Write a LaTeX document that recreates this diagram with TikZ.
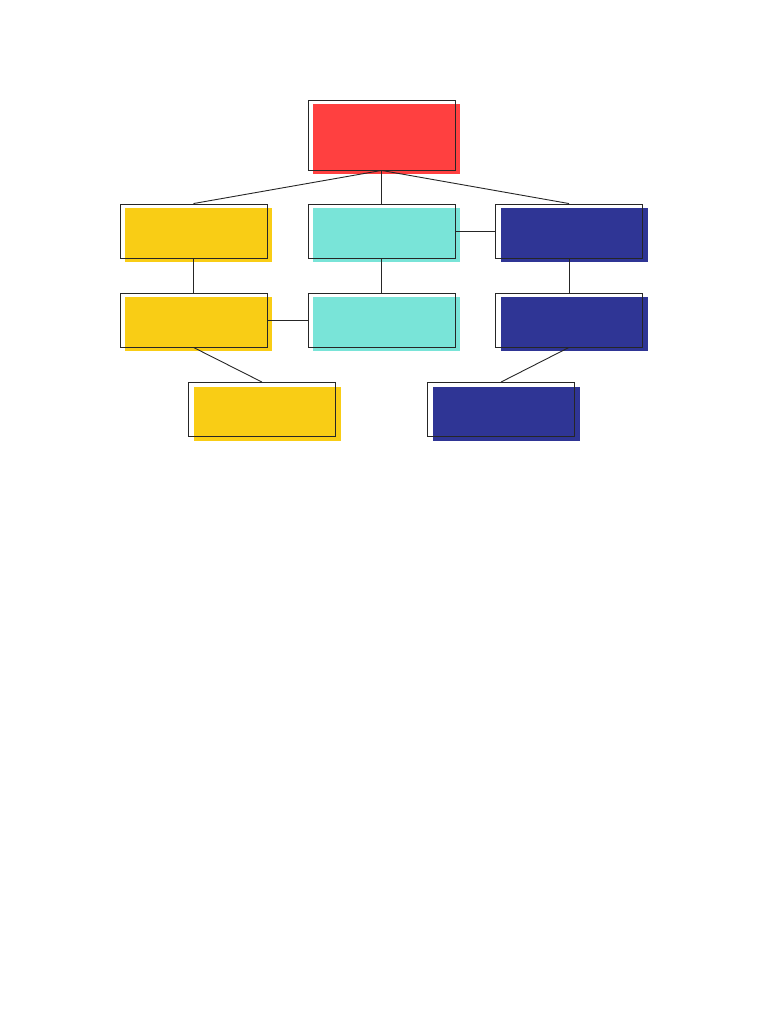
\documentclass[tikz,border=0pt]{standalone}
\usetikzlibrary{shadows}
\definecolor{chartred}{HTML}{FF4040}
\definecolor{chartyellow}{HTML}{F9CD15}
\definecolor{chartteal}{HTML}{79E4D8}
\definecolor{chartnavy}{HTML}{2F3595}
\tikzset{
  card/.style={draw=black!85, line width=0.9pt, minimum width=147pt, minimum height=54pt, inner sep=0pt,
    general shadow={fill=#1, shadow xshift=5pt, shadow yshift=-4pt}},
  link/.style={draw=black!85, line width=0.9pt}
}
\begin{document}
\begin{tikzpicture}
	[x=1pt, y=-1pt]
	\useasboundingbox (0,0) rectangle (768,1024);
	\node [card=chartred, minimum height=70pt] (top) at (381.5,135) {};
	\node [card=chartyellow] (y1) at (193.5,231) {};
	\node [card=chartteal] (t1) at (381.5,231) {};
	\node [card=chartnavy] (n1) at (569,231) {};
	\node [card=chartyellow] (y2) at (193.5,320) {};
	\node [card=chartteal] (t2) at (381.5,320) {};
	\node [card=chartnavy] (n2) at (569,320) {};
	\node [card=chartyellow] (y3) at (262,409.5) {};
	\node [card=chartnavy] (n3) at (501,409.5) {};

	\foreach \from/\to in {top/y1,top/t1,top/n1,y1/y2,t1/t2,n1/n2,y2/y3,n2/n3}
	\draw [link] (\from.south) -- (\to.north);

	\draw [link] (t1) -- (n1);
	\draw [link] (y2) -- (t2);
\end{tikzpicture}
\end{document}
